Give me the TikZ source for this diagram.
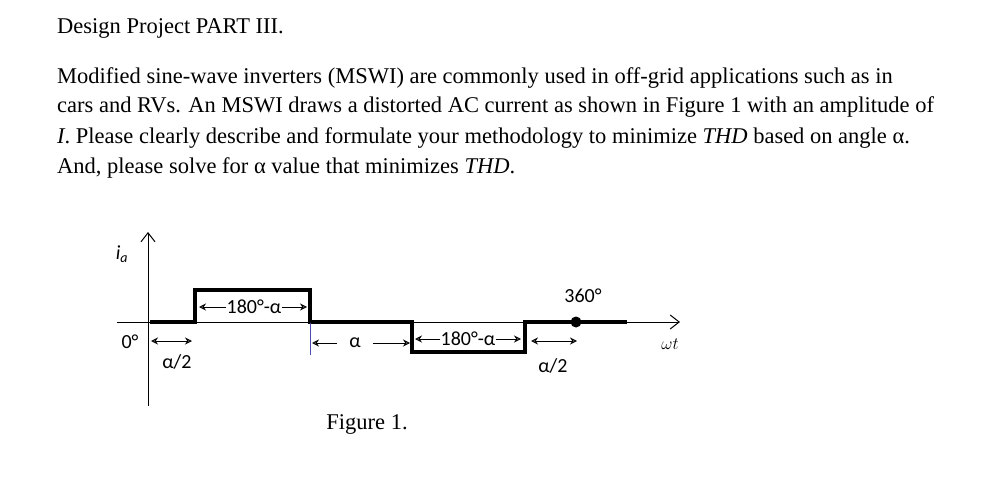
\documentclass[tikz,border=0pt]{standalone}
\usepackage{fontspec}
\setmainfont{Liberation Serif}
\newfontfamily\carfont{Carlito}
\usetikzlibrary{arrows.meta}
\begin{document}
\begin{tikzpicture}[x=1pt,y=-1pt,
  txt/.style={anchor=base west,inner sep=0pt,font=\fontsize{22.5}{26}\selectfont},
  lbl/.style={inner sep=0pt,font=\carfont\fontsize{20}{24}\selectfont},
  wave/.style={line width=3.4pt},
  dim/.style={{Stealth[open,length=7pt,width=7pt]}-{Stealth[open,length=7pt,width=7pt]},line width=1pt},
  sdim/.style={-{Stealth[open,length=7pt,width=7pt]},line width=1pt},
  ax/.style={-{Straight Barb[length=9pt,width=14pt]},line width=1pt}]
\useasboundingbox (0,0) rectangle (1001,492);
\node[txt] (t0) at (57,34) {Design Project PART III.};
\node[txt] (t1) at (57,84) {Modified sine-wave inverters (MSWI) are commonly used in off-grid applications such as in};
\node[txt] (t2) at (57,113) {cars and RVs. An MSWI draws a distorted AC current as shown in Figure 1 with an amplitude of};
\node[txt] (t3) at (57,143) {\textit{I}. Please clearly describe and formulate your methodology to minimize \textit{THD} based on angle α.};
\node[txt] (t4) at (57,173) {And, please solve for α value that minimizes \textit{THD}.};
% axes
\coordinate (ya) at (148,406); \coordinate (yb) at (148,232);
\coordinate (xa) at (117,322); \coordinate (xb) at (680,322);
\draw[ax] (ya) -- (yb);
\draw[ax] (xa) -- (xb);
% waveform
\draw[wave] (150,322) -- (195,322) -- (195,290) -- (310,290) -- (310,322) -- (412,322) -- (412,352) -- (525,352) -- (525,322) -- (627,322);
\draw[line width=0.8pt,color=blue!40!gray] (310,323) -- (310,355);
\node[circle,fill,inner sep=0pt,minimum size=11pt] (dot) at (576,322) {};
% dims
\coordinate (d1a) at (151,341); \coordinate (d1b) at (192,341);
\draw[dim] (d1a) -- (d1b);
\node[lbl] (l1) at (177,362) {α/2};
\node[lbl] (l2) at (254,307) {180°-α};
\draw[sdim] (l2.west) -- (199,307);
\draw[sdim] (l2.east) -- (307,307);
\node[lbl] (l3) at (355,343) {α};
\draw[sdim] ([xshift=-12pt]l3.west) -- (312,343);
\draw[sdim] ([xshift=12pt]l3.east) -- (410,343);
\node[lbl] (l4) at (468,339) {180°-α};
\draw[sdim] (l4.west) -- (415,339);
\draw[sdim] (l4.east) -- (521,339);
\coordinate (d5a) at (531,341); \coordinate (d5b) at (577,341);
\draw[dim] (d5a) -- (d5b);
\node[lbl] (l5) at (553,366) {α/2};
\node[lbl] (l6) at (583,296) {360°};
\node[lbl] (l7) at (130,342) {0°};
\node[inner sep=0pt,font=\fontsize{19}{22}\selectfont] (l8) at (670,344) {$\omega t$};
\node[inner sep=0pt,font=\carfont\fontsize{20}{24}\selectfont] (l9) at (122,254) {\textit{i}\textsubscript{\textit{a}}};
\node[txt,anchor=center] (fig) at (367,424) {Figure 1.};
\end{tikzpicture}
\end{document}
